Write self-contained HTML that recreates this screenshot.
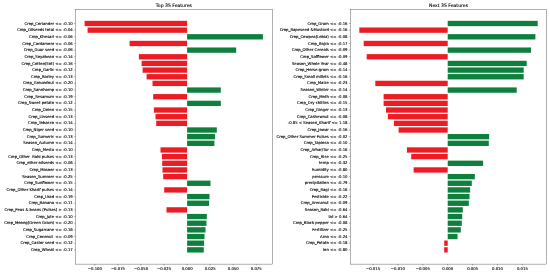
<!DOCTYPE html>
<html lang="en"><head><meta charset="utf-8"><title>Top 35 Features / Next 35 Features</title>
<style>html,body{margin:0;padding:0;background:#fff;overflow:hidden}svg{display:block}</style></head>
<body>
<svg width="550" height="274" viewBox="0 0 550 274" font-family="'DejaVu Sans','Liberation Sans',sans-serif" fill="#000">
<style>text{stroke:#000;stroke-width:1.2px}</style>
<rect width="550" height="274" fill="#fff"/>
<rect x="84.60" y="20.83" width="102.50" height="5.33" fill="#ec1c24"/>
<rect x="87.60" y="27.49" width="99.50" height="5.33" fill="#ec1c24"/>
<rect x="187.10" y="34.15" width="75.80" height="5.33" fill="#0e7f3c"/>
<rect x="129.60" y="40.81" width="57.50" height="5.33" fill="#ec1c24"/>
<rect x="187.10" y="47.46" width="49.10" height="5.33" fill="#0e7f3c"/>
<rect x="138.90" y="54.12" width="48.20" height="5.33" fill="#ec1c24"/>
<rect x="141.60" y="60.78" width="45.50" height="5.33" fill="#ec1c24"/>
<rect x="142.60" y="67.44" width="44.50" height="5.33" fill="#ec1c24"/>
<rect x="146.60" y="74.09" width="40.50" height="5.33" fill="#ec1c24"/>
<rect x="152.50" y="80.75" width="34.60" height="5.33" fill="#ec1c24"/>
<rect x="187.10" y="87.41" width="33.70" height="5.33" fill="#0e7f3c"/>
<rect x="153.20" y="94.07" width="33.90" height="5.33" fill="#ec1c24"/>
<rect x="187.10" y="100.72" width="33.70" height="5.33" fill="#0e7f3c"/>
<rect x="153.90" y="107.38" width="33.20" height="5.33" fill="#ec1c24"/>
<rect x="155.50" y="114.04" width="31.60" height="5.33" fill="#ec1c24"/>
<rect x="156.20" y="120.70" width="30.90" height="5.33" fill="#ec1c24"/>
<rect x="187.10" y="127.35" width="29.70" height="5.33" fill="#0e7f3c"/>
<rect x="187.10" y="134.01" width="28.00" height="5.33" fill="#0e7f3c"/>
<rect x="187.10" y="140.67" width="27.30" height="5.33" fill="#0e7f3c"/>
<rect x="160.50" y="147.33" width="26.60" height="5.33" fill="#ec1c24"/>
<rect x="161.90" y="153.98" width="25.20" height="5.33" fill="#ec1c24"/>
<rect x="162.20" y="160.64" width="24.90" height="5.33" fill="#ec1c24"/>
<rect x="162.50" y="167.30" width="24.60" height="5.33" fill="#ec1c24"/>
<rect x="163.20" y="173.96" width="23.90" height="5.33" fill="#ec1c24"/>
<rect x="187.10" y="180.61" width="23.40" height="5.33" fill="#0e7f3c"/>
<rect x="164.20" y="187.27" width="22.90" height="5.33" fill="#ec1c24"/>
<rect x="187.10" y="193.93" width="22.40" height="5.33" fill="#0e7f3c"/>
<rect x="187.10" y="200.59" width="22.00" height="5.33" fill="#0e7f3c"/>
<rect x="166.50" y="207.24" width="20.60" height="5.33" fill="#ec1c24"/>
<rect x="187.10" y="213.90" width="19.70" height="5.33" fill="#0e7f3c"/>
<rect x="187.10" y="220.56" width="19.40" height="5.33" fill="#0e7f3c"/>
<rect x="187.10" y="227.22" width="18.40" height="5.33" fill="#0e7f3c"/>
<rect x="187.10" y="233.87" width="17.40" height="5.33" fill="#0e7f3c"/>
<rect x="187.10" y="240.53" width="17.00" height="5.33" fill="#0e7f3c"/>
<rect x="187.10" y="247.19" width="16.70" height="5.33" fill="#0e7f3c"/>
<rect x="75.45" y="9.25" width="196.95" height="254.85" fill="none" stroke="#1a1a1a" stroke-width="0.34"/>
<path d="M75.45 23.50h-1.34M75.45 30.15h-1.34M75.45 36.81h-1.34M75.45 43.47h-1.34M75.45 50.13h-1.34M75.45 56.78h-1.34M75.45 63.44h-1.34M75.45 70.10h-1.34M75.45 76.76h-1.34M75.45 83.41h-1.34M75.45 90.07h-1.34M75.45 96.73h-1.34M75.45 103.39h-1.34M75.45 110.04h-1.34M75.45 116.70h-1.34M75.45 123.36h-1.34M75.45 130.02h-1.34M75.45 136.68h-1.34M75.45 143.33h-1.34M75.45 149.99h-1.34M75.45 156.65h-1.34M75.45 163.31h-1.34M75.45 169.96h-1.34M75.45 176.62h-1.34M75.45 183.28h-1.34M75.45 189.94h-1.34M75.45 196.59h-1.34M75.45 203.25h-1.34M75.45 209.91h-1.34M75.45 216.57h-1.34M75.45 223.22h-1.34M75.45 229.88h-1.34M75.45 236.54h-1.34M75.45 243.20h-1.34M75.45 249.85h-1.34M94.90 264.10v1.34M117.95 264.10v1.34M141.00 264.10v1.34M164.05 264.10v1.34M187.10 264.10v1.34M210.15 264.10v1.34M233.20 264.10v1.34M256.25 264.10v1.34" stroke="#1a1a1a" stroke-width="0.34" fill="none"/>
<g font-size="38.199999999999996" text-anchor="end">
<text transform="translate(72.77 24.55) scale(0.1)" xml:space="preserve">Crop_Coriander &lt;= -0.10</text>
<text transform="translate(72.77 31.21) scale(0.1)" xml:space="preserve">Crop_Oilseeds total &lt;= -0.04</text>
<text transform="translate(72.77 37.87) scale(0.1)" xml:space="preserve">Crop_Khesari &lt;= -0.06</text>
<text transform="translate(72.77 44.52) scale(0.1)" xml:space="preserve">Crop_Cardamom &lt;= -0.06</text>
<text transform="translate(72.77 51.18) scale(0.1)" xml:space="preserve">Crop_Guar seed &lt;= -0.06</text>
<text transform="translate(72.77 57.84) scale(0.1)" xml:space="preserve">Crop_Soyabean &lt;= -0.14</text>
<text transform="translate(72.77 64.50) scale(0.1)" xml:space="preserve">Crop_Cotton(lint) &lt;= -0.16</text>
<text transform="translate(72.77 71.15) scale(0.1)" xml:space="preserve">Crop_Garlic &lt;= -0.12</text>
<text transform="translate(72.77 77.81) scale(0.1)" xml:space="preserve">Crop_Barley &lt;= -0.13</text>
<text transform="translate(72.77 84.47) scale(0.1)" xml:space="preserve">Crop_Groundnut &lt;= -0.20</text>
<text transform="translate(72.77 91.13) scale(0.1)" xml:space="preserve">Crop_Sannhamp &lt;= -0.10</text>
<text transform="translate(72.77 97.78) scale(0.1)" xml:space="preserve">Crop_Sesamum &lt;= -0.19</text>
<text transform="translate(72.77 104.44) scale(0.1)" xml:space="preserve">Crop_Sweet potato &lt;= -0.12</text>
<text transform="translate(72.77 111.10) scale(0.1)" xml:space="preserve">Crop_Onion &lt;= -0.15</text>
<text transform="translate(72.77 117.76) scale(0.1)" xml:space="preserve">Crop_Linseed &lt;= -0.13</text>
<text transform="translate(72.77 124.41) scale(0.1)" xml:space="preserve">Crop_Tobacco &lt;= -0.14</text>
<text transform="translate(72.77 131.07) scale(0.1)" xml:space="preserve">Crop_Niger seed &lt;= -0.10</text>
<text transform="translate(72.77 137.73) scale(0.1)" xml:space="preserve">Crop_Turmeric &lt;= -0.13</text>
<text transform="translate(72.77 144.39) scale(0.1)" xml:space="preserve">Season_Autumn &lt;= -0.14</text>
<text transform="translate(72.77 151.04) scale(0.1)" xml:space="preserve">Crop_Mesta &lt;= -0.10</text>
<text transform="translate(72.77 157.70) scale(0.1)" xml:space="preserve">Crop_Other  Rabi pulses &lt;= -0.13</text>
<text transform="translate(72.77 164.36) scale(0.1)" xml:space="preserve">Crop_other oilseeds &lt;= -0.08</text>
<text transform="translate(72.77 171.02) scale(0.1)" xml:space="preserve">Crop_Masoor &lt;= -0.13</text>
<text transform="translate(72.77 177.67) scale(0.1)" xml:space="preserve">Season_Summer &lt;= -0.25</text>
<text transform="translate(72.77 184.33) scale(0.1)" xml:space="preserve">Crop_Sunflower &lt;= -0.15</text>
<text transform="translate(72.77 190.99) scale(0.1)" xml:space="preserve">Crop_Other Kharif pulses &lt;= -0.14</text>
<text transform="translate(72.77 197.65) scale(0.1)" xml:space="preserve">Crop_Urad &lt;= -0.19</text>
<text transform="translate(72.77 204.30) scale(0.1)" xml:space="preserve">Crop_Banana &lt;= -0.11</text>
<text transform="translate(72.77 210.96) scale(0.1)" xml:space="preserve">Crop_Peas &amp; beans (Pulses) &gt; -0.13</text>
<text transform="translate(72.77 217.62) scale(0.1)" xml:space="preserve">Crop_Jute &lt;= -0.10</text>
<text transform="translate(72.77 224.28) scale(0.1)" xml:space="preserve">Crop_Moong(Green Gram) &lt;= -0.20</text>
<text transform="translate(72.77 230.93) scale(0.1)" xml:space="preserve">Crop_Sugarcane &lt;= -0.18</text>
<text transform="translate(72.77 237.59) scale(0.1)" xml:space="preserve">Crop_Coconut  &lt;= -0.09</text>
<text transform="translate(72.77 244.25) scale(0.1)" xml:space="preserve">Crop_Castor seed &lt;= -0.12</text>
<text transform="translate(72.77 250.91) scale(0.1)" xml:space="preserve">Crop_Wheat &lt;= -0.17</text>
</g>
<g font-size="38.199999999999996" text-anchor="middle">
<text transform="translate(94.90 269.68) scale(0.1)">−0.100</text>
<text transform="translate(117.95 269.68) scale(0.1)">−0.075</text>
<text transform="translate(141.00 269.68) scale(0.1)">−0.050</text>
<text transform="translate(164.05 269.68) scale(0.1)">−0.025</text>
<text transform="translate(187.10 269.68) scale(0.1)">0.000</text>
<text transform="translate(210.15 269.68) scale(0.1)">0.025</text>
<text transform="translate(233.20 269.68) scale(0.1)">0.050</text>
<text transform="translate(256.25 269.68) scale(0.1)">0.075</text>
</g>
<text transform="translate(173.92 6.96) scale(0.1)" font-size="45.8" text-anchor="middle">Top 35 Features</text>
<rect x="447.70" y="20.83" width="90.00" height="5.33" fill="#0e7f3c"/>
<rect x="359.30" y="27.49" width="88.40" height="5.33" fill="#ec1c24"/>
<rect x="447.70" y="34.15" width="87.70" height="5.33" fill="#0e7f3c"/>
<rect x="363.70" y="40.81" width="84.00" height="5.33" fill="#ec1c24"/>
<rect x="447.70" y="47.46" width="83.30" height="5.33" fill="#0e7f3c"/>
<rect x="366.70" y="54.12" width="81.00" height="5.33" fill="#ec1c24"/>
<rect x="447.70" y="60.78" width="79.00" height="5.33" fill="#0e7f3c"/>
<rect x="447.70" y="67.44" width="76.00" height="5.33" fill="#0e7f3c"/>
<rect x="447.70" y="74.09" width="76.00" height="5.33" fill="#0e7f3c"/>
<rect x="375.30" y="80.75" width="72.40" height="5.33" fill="#ec1c24"/>
<rect x="447.70" y="87.41" width="69.00" height="5.33" fill="#0e7f3c"/>
<rect x="383.60" y="94.07" width="64.10" height="5.33" fill="#ec1c24"/>
<rect x="383.60" y="100.72" width="64.10" height="5.33" fill="#ec1c24"/>
<rect x="386.00" y="107.38" width="61.70" height="5.33" fill="#ec1c24"/>
<rect x="387.90" y="114.04" width="59.80" height="5.33" fill="#ec1c24"/>
<rect x="393.90" y="120.70" width="53.80" height="5.33" fill="#ec1c24"/>
<rect x="398.60" y="127.35" width="49.10" height="5.33" fill="#ec1c24"/>
<rect x="447.70" y="134.01" width="41.40" height="5.33" fill="#0e7f3c"/>
<rect x="447.70" y="140.67" width="41.10" height="5.33" fill="#0e7f3c"/>
<rect x="406.90" y="147.33" width="40.80" height="5.33" fill="#ec1c24"/>
<rect x="411.20" y="153.98" width="36.50" height="5.33" fill="#ec1c24"/>
<rect x="447.70" y="160.64" width="35.40" height="5.33" fill="#0e7f3c"/>
<rect x="413.60" y="167.30" width="34.10" height="5.33" fill="#ec1c24"/>
<rect x="447.70" y="173.96" width="27.10" height="5.33" fill="#0e7f3c"/>
<rect x="447.70" y="180.61" width="24.10" height="5.33" fill="#0e7f3c"/>
<rect x="447.70" y="187.27" width="22.40" height="5.33" fill="#0e7f3c"/>
<rect x="447.70" y="193.93" width="21.80" height="5.33" fill="#0e7f3c"/>
<rect x="447.70" y="200.59" width="21.10" height="5.33" fill="#0e7f3c"/>
<rect x="447.70" y="207.24" width="15.10" height="5.33" fill="#0e7f3c"/>
<rect x="447.70" y="213.90" width="14.50" height="5.33" fill="#0e7f3c"/>
<rect x="447.70" y="220.56" width="14.10" height="5.33" fill="#0e7f3c"/>
<rect x="447.70" y="227.22" width="13.10" height="5.33" fill="#0e7f3c"/>
<rect x="447.70" y="233.87" width="9.80" height="5.33" fill="#0e7f3c"/>
<rect x="444.20" y="240.53" width="3.50" height="5.33" fill="#ec1c24"/>
<rect x="444.20" y="247.19" width="3.50" height="5.33" fill="#ec1c24"/>
<rect x="350.20" y="9.25" width="196.60" height="254.85" fill="none" stroke="#1a1a1a" stroke-width="0.34"/>
<path d="M350.20 23.50h-1.34M350.20 30.15h-1.34M350.20 36.81h-1.34M350.20 43.47h-1.34M350.20 50.13h-1.34M350.20 56.78h-1.34M350.20 63.44h-1.34M350.20 70.10h-1.34M350.20 76.76h-1.34M350.20 83.41h-1.34M350.20 90.07h-1.34M350.20 96.73h-1.34M350.20 103.39h-1.34M350.20 110.04h-1.34M350.20 116.70h-1.34M350.20 123.36h-1.34M350.20 130.02h-1.34M350.20 136.68h-1.34M350.20 143.33h-1.34M350.20 149.99h-1.34M350.20 156.65h-1.34M350.20 163.31h-1.34M350.20 169.96h-1.34M350.20 176.62h-1.34M350.20 183.28h-1.34M350.20 189.94h-1.34M350.20 196.59h-1.34M350.20 203.25h-1.34M350.20 209.91h-1.34M350.20 216.57h-1.34M350.20 223.22h-1.34M350.20 229.88h-1.34M350.20 236.54h-1.34M350.20 243.20h-1.34M350.20 249.85h-1.34M373.00 264.10v1.34M397.90 264.10v1.34M422.80 264.10v1.34M447.70 264.10v1.34M472.60 264.10v1.34M497.50 264.10v1.34M522.40 264.10v1.34" stroke="#1a1a1a" stroke-width="0.34" fill="none"/>
<g font-size="38.199999999999996" text-anchor="end">
<text transform="translate(347.52 24.55) scale(0.1)" xml:space="preserve">Crop_Gram &lt;= -0.16</text>
<text transform="translate(347.52 31.21) scale(0.1)" xml:space="preserve">Crop_Rapeseed &amp;Mustard &lt;= -0.16</text>
<text transform="translate(347.52 37.87) scale(0.1)" xml:space="preserve">Crop_Cowpea(Lobia) &lt;= -0.08</text>
<text transform="translate(347.52 44.52) scale(0.1)" xml:space="preserve">Crop_Bajra &lt;= -0.17</text>
<text transform="translate(347.52 51.18) scale(0.1)" xml:space="preserve">Crop_Other Cereals &lt;= -0.09</text>
<text transform="translate(347.52 57.84) scale(0.1)" xml:space="preserve">Crop_Safflower &lt;= -0.09</text>
<text transform="translate(347.52 64.50) scale(0.1)" xml:space="preserve">Season_Whole Year &lt;= -0.48</text>
<text transform="translate(347.52 71.15) scale(0.1)" xml:space="preserve">Crop_Horse-gram &lt;= -0.14</text>
<text transform="translate(347.52 77.81) scale(0.1)" xml:space="preserve">Crop_Small millets &lt;= -0.16</text>
<text transform="translate(347.52 84.47) scale(0.1)" xml:space="preserve">Crop_Maize &lt;= -0.23</text>
<text transform="translate(347.52 91.13) scale(0.1)" xml:space="preserve">Season_Winter &lt;= -0.14</text>
<text transform="translate(347.52 97.78) scale(0.1)" xml:space="preserve">Crop_Moth &lt;= -0.08</text>
<text transform="translate(347.52 104.44) scale(0.1)" xml:space="preserve">Crop_Dry chillies &lt;= -0.15</text>
<text transform="translate(347.52 111.10) scale(0.1)" xml:space="preserve">Crop_Ginger &lt;= -0.13</text>
<text transform="translate(347.52 117.76) scale(0.1)" xml:space="preserve">Crop_Cashewnut &lt;= -0.08</text>
<text transform="translate(347.52 124.41) scale(0.1)" xml:space="preserve">-0.85 &lt; Season_Kharif &lt;= 1.18</text>
<text transform="translate(347.52 131.07) scale(0.1)" xml:space="preserve">Crop_Jowar &lt;= -0.16</text>
<text transform="translate(347.52 137.73) scale(0.1)" xml:space="preserve">Crop_Other Summer Pulses &lt;= -0.02</text>
<text transform="translate(347.52 144.39) scale(0.1)" xml:space="preserve">Crop_Tapioca &lt;= -0.10</text>
<text transform="translate(347.52 151.04) scale(0.1)" xml:space="preserve">Crop_Arhar/Tur &lt;= -0.16</text>
<text transform="translate(347.52 157.70) scale(0.1)" xml:space="preserve">Crop_Rice &lt;= -0.25</text>
<text transform="translate(347.52 164.36) scale(0.1)" xml:space="preserve">temp &lt;= -0.32</text>
<text transform="translate(347.52 171.02) scale(0.1)" xml:space="preserve">humidity &lt;= -0.80</text>
<text transform="translate(347.52 177.67) scale(0.1)" xml:space="preserve">pressure &lt;= -0.10</text>
<text transform="translate(347.52 184.33) scale(0.1)" xml:space="preserve">precipitation &lt;= -0.79</text>
<text transform="translate(347.52 190.99) scale(0.1)" xml:space="preserve">Crop_Ragi &lt;= -0.16</text>
<text transform="translate(347.52 197.65) scale(0.1)" xml:space="preserve">Pesticide &lt;= -0.22</text>
<text transform="translate(347.52 204.30) scale(0.1)" xml:space="preserve">Crop_Arecanut &lt;= -0.09</text>
<text transform="translate(347.52 210.96) scale(0.1)" xml:space="preserve">Season_Rabi &lt;= -0.64</text>
<text transform="translate(347.52 217.62) scale(0.1)" xml:space="preserve">lat &gt; 0.64</text>
<text transform="translate(347.52 224.28) scale(0.1)" xml:space="preserve">Crop_Black pepper &lt;= -0.08</text>
<text transform="translate(347.52 230.93) scale(0.1)" xml:space="preserve">Fertilizer &lt;= -0.25</text>
<text transform="translate(347.52 237.59) scale(0.1)" xml:space="preserve">Area &lt;= -0.24</text>
<text transform="translate(347.52 244.25) scale(0.1)" xml:space="preserve">Crop_Potato &lt;= -0.18</text>
<text transform="translate(347.52 250.91) scale(0.1)" xml:space="preserve">lon &lt;= -0.80</text>
</g>
<g font-size="38.199999999999996" text-anchor="middle">
<text transform="translate(373.00 269.68) scale(0.1)">−0.015</text>
<text transform="translate(397.90 269.68) scale(0.1)">−0.010</text>
<text transform="translate(422.80 269.68) scale(0.1)">−0.005</text>
<text transform="translate(447.70 269.68) scale(0.1)">0.000</text>
<text transform="translate(472.60 269.68) scale(0.1)">0.005</text>
<text transform="translate(497.50 269.68) scale(0.1)">0.010</text>
<text transform="translate(522.40 269.68) scale(0.1)">0.015</text>
</g>
<text transform="translate(448.50 6.96) scale(0.1)" font-size="45.8" text-anchor="middle">Next 35 Features</text>
</svg>
</body></html>
